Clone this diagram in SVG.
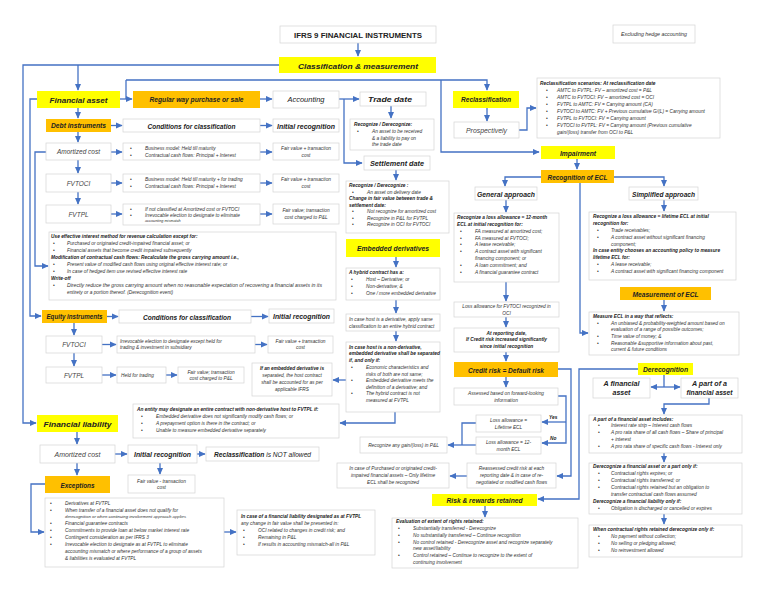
<svg xmlns="http://www.w3.org/2000/svg" width="768" height="594" viewBox="0 0 768 594">
<defs>
<marker id="ar" viewBox="0 0 10 10" refX="9" refY="5" markerWidth="7" markerHeight="7" orient="auto" markerUnits="userSpaceOnUse"><path d="M0,0.5 L10,5 L0,9.5 z" fill="#4472c4"/></marker>
<style>
.bx{fill:#fff;stroke:#d4d4d4;stroke-width:0.7}
.yl{fill:#ffff00}
.or{fill:#ffc000}
text{font-family:"Liberation Sans",Arial,sans-serif;fill:#222}
.hd{font-weight:bold;font-style:italic;font-size:7px}
.hi{font-style:italic;font-size:6.5px;fill:#444}
.s{font-style:italic;font-size:4.8px;fill:#333}
.sb{font-style:italic;font-weight:bold;font-size:4.8px;fill:#222}
.m{text-anchor:middle}
.c{fill:none;stroke:#4472c4;stroke-width:1.3}
.a{marker-end:url(#ar)}
</style>
</defs>
<rect width="768" height="594" fill="#fff"/>

<g id="connectors">
<path class="c a" d="M358,43 V56"/>
<path class="c a" d="M279,65 H23 V423 H36"/>
<path class="c a" d="M78,65 V90"/>
<path class="c a" d="M126,80 H487 V90"/>
<path class="c" d="M126,80 V99"/>
<path class="c a" d="M441,80 V152 H539"/>
<path class="c a" d="M120,99 H132"/>
<path class="c a" d="M260,99 H272"/>
<path class="c a" d="M339,99 H359"/>
<path class="c a" d="M344,99 V163 H362"/>
<path class="c a" d="M391,106 V118"/>
<path class="c a" d="M396,170 V180"/>
<path class="c a" d="M396,257 V267"/>
<path class="c a" d="M396,300 V313"/>
<path class="c a" d="M396,331 V341"/>
<path class="c a" d="M346,380 H333"/>
<path class="c a" d="M395,412 V423 H340"/>
<path class="c a" d="M37,99 H30 V316 H41"/>
<path class="c a" d="M46,152 H35 V266 H48"/>
<path class="c a" d="M78,108 V118"/>
<path class="c a" d="M78,132 V142"/>
<path class="c a" d="M78,160 V173"/>
<path class="c a" d="M78,192 V204"/>
<path class="c a" d="M111,125.5 H122"/>
<path class="c a" d="M260,125.5 H272"/>
<path class="c a" d="M111,152 H122"/>
<path class="c a" d="M260,152 H272"/>
<path class="c a" d="M111,183 H122"/>
<path class="c a" d="M260,183 H272"/>
<path class="c a" d="M111,214 H122"/>
<path class="c a" d="M260,214 H272"/>
<path class="c a" d="M74,323 V335"/>
<path class="c a" d="M74,353 V366"/>
<path class="c a" d="M107,316.5 H118"/>
<path class="c a" d="M251,316.5 H268"/>
<path class="c a" d="M102,344.5 H116"/>
<path class="c a" d="M255,344.5 H267"/>
<path class="c a" d="M102,375 H116"/>
<path class="c a" d="M166,375 H177"/>
<path class="c a" d="M77,432 V444"/>
<path class="c a" d="M115,454 H127"/>
<path class="c a" d="M197,454 H205"/>
<path class="c a" d="M160,463 V474"/>
<path class="c a" d="M77,463 V475"/>
<path class="c a" d="M45,484 H31 V532 H44"/>
<path class="c a" d="M224,532 H236"/>
<path class="c a" d="M487,108 V121"/>
<path class="c a" d="M519,130 H527 V108 H536"/>
<path class="c a" d="M577,159 V169"/>
<path class="c a" d="M541,177 H505 V186"/>
<path class="c a" d="M614,177 H664 V186"/>
<path class="c a" d="M580,183 V333 H588"/>
<path class="c a" d="M506,200 V212"/>
<path class="c a" d="M506,282 V301"/>
<path class="c a" d="M506,317 V327"/>
<path class="c a" d="M506,352 V361"/>
<path class="c a" d="M506,377 V387"/>
<path class="c a" d="M558,369 H571 V476 H557"/>
<path class="c a" d="M558,396 H566 V443 H542"/>
<path class="c a" d="M566,422 H542"/>
<path class="c" d="M476,423 H462 V445"/>
<path class="c a" d="M476,445 H448"/>
<path class="c a" d="M467,476 H450"/>
<path class="c a" d="M664,200 V211"/>
<path class="c a" d="M664,300 V311"/>
<path class="c a" d="M638,369 H579 V499 H538"/>
<path class="c" d="M664,375 V387"/>
<path class="c a" d="M664,387 H651"/>
<path class="c a" d="M664,387 H680"/>
<path class="c a" d="M709,398 V404 H664 V414"/>
<path class="c a" d="M664,453 V462"/>
<path class="c a" d="M664,514 V524"/>
<path class="c a" d="M485,506 V517"/>
<text class="sb" x="549" y="419">Yes</text>
<text class="sb" x="550" y="440">No</text>
</g>

<g id="title"><rect class="bx" x="280" y="26" width="156" height="17"/><text x="358" y="37.5" class="m" style="font-weight:bold;font-size:8px" textLength="128" lengthAdjust="spacingAndGlyphs">IFRS 9 FINANCIAL INSTRUMENTS</text></g>
<g id="hedge"><rect class="bx" x="613" y="25" width="82" height="18"/><text x="654" y="36" class="s m" textLength="66" lengthAdjust="spacingAndGlyphs">Excluding hedge accounting</text></g>
<g id="classification"><rect class="yl" x="279" y="57" width="157" height="16"/><text x="358" y="68.5" class="hd m" style="font-size:8px" textLength="120" lengthAdjust="spacingAndGlyphs">Classification &amp; measurement</text></g>

<g id="financial-asset"><rect class="yl" x="37" y="91" width="83" height="17"/><text x="78.5" y="102.5" class="hd m" style="font-size:8px" textLength="58" lengthAdjust="spacingAndGlyphs">Financial asset</text></g>
<g id="regular-way"><rect class="or" x="133" y="91" width="127" height="17"/><text x="196.5" y="102" class="hd m" textLength="94" lengthAdjust="spacingAndGlyphs">Regular way purchase or sale</text></g>
<g id="accounting"><rect class="bx" x="273" y="91" width="66" height="17"/><text x="306" y="102" class="hd m" style="font-weight:normal" textLength="37" lengthAdjust="spacingAndGlyphs">Accounting</text></g>
<g id="trade-date"><rect class="bx" x="360" y="92" width="66" height="14"/><text x="390" y="101.5" class="hd m" textLength="44" lengthAdjust="spacingAndGlyphs">Trade date</text></g>
<g id="trade-recognize"><rect class="bx" x="350" y="119" width="84" height="31"/>
<text x="354" y="126" class="sb">Recognize / Derecognize:</text>
<text x="357" y="133" class="s">•</text><text x="372" y="133" class="s">An asset to be received</text>
<text x="372" y="139.5" class="s">&amp; a liability to pay on</text>
<text x="372" y="146" class="s">the trade date</text></g>
<g id="settlement-date"><rect class="bx" x="364" y="156" width="66" height="14"/><text x="397" y="166" class="hd m" textLength="54" lengthAdjust="spacingAndGlyphs">Settlement date</text></g>
<g id="settlement-recognize"><rect class="bx" x="346" y="181" width="103" height="52"/>
<text x="349" y="187" class="sb">Recognize / Derecognize :</text>
<text x="352" y="193.5" class="s">•</text><text x="367" y="193.5" class="s">An asset on delivery date</text>
<text x="349" y="200" class="sb">Change in fair value between trade &amp;</text>
<text x="349" y="206.5" class="sb">settlement date:</text>
<text x="352" y="213" class="s">•</text><text x="367" y="213" class="s">Not recognize for amortized cost</text>
<text x="352" y="219.5" class="s">•</text><text x="367" y="219.5" class="s">Recognize in P&amp;L for FVTPL</text>
<text x="352" y="226" class="s">•</text><text x="367" y="226" class="s">Recognize in OCI for FVTOCI</text></g>

<g id="embedded"><rect class="yl" x="346" y="239" width="94" height="18"/><text x="393" y="250.5" class="hd m" textLength="72" lengthAdjust="spacingAndGlyphs">Embedded derivatives</text></g>
<g id="hybrid"><rect class="bx" x="346" y="268" width="94" height="32"/>
<text x="349" y="274" class="sb">A hybrid contract has a:</text>
<text x="351" y="281" class="s">•</text><text x="366" y="281" class="s">Host – Derivative; or</text>
<text x="351" y="288" class="s">•</text><text x="366" y="288" class="s">Non-derivative; &amp;</text>
<text x="351" y="295" class="s">•</text><text x="366" y="295" class="s">One / more embedded derivative</text></g>
<g id="host-derivative"><rect class="bx" x="346" y="314" width="94" height="17"/>
<text x="349" y="321" class="s">In case host is a derivative, apply same</text>
<text x="349" y="328" class="s">classification to an entire hybrid contract</text></g>
<g id="host-nonderivative"><rect class="bx" x="346" y="342" width="94" height="70"/>
<text x="349" y="348.5" class="sb">In case host is a non-derivative,</text>
<text x="349" y="355" class="sb">embedded derivative shall be separated</text>
<text x="349" y="361.5" class="sb">if, and only if:</text>
<text x="351" y="369" class="s">•</text><text x="366" y="369" class="s">Economic characteristics and</text>
<text x="366" y="375.5" class="s">risks of both are not same;</text>
<text x="351" y="382" class="s">•</text><text x="366" y="382" class="s">Embedded derivative meets the</text>
<text x="366" y="388.5" class="s">definition of a derivative; and</text>
<text x="351" y="395" class="s">•</text><text x="366" y="395" class="s">The hybrid contract is not</text>
<text x="366" y="401.5" class="s">measured at FVTPL</text></g>
<g id="host-separated"><rect class="bx" x="252" y="363" width="80" height="33"/>
<text x="292" y="369.5" class="sb m">If an embedded derivative is</text>
<text x="292" y="376.5" class="s m">separated,  the host contract</text>
<text x="292" y="383.5" class="s m">shall be accounted for as per</text>
<text x="292" y="390.5" class="s m">applicable IFRS</text></g>
<g id="designate-entire"><rect class="bx" x="133" y="404" width="206" height="34"/>
<text x="137" y="411" class="sb">An entity may designate an entire contract with non-derivative host to FVTPL if:</text>
<text x="141" y="418" class="s">•</text><text x="156" y="418" class="s">Embedded derivative does not significantly modify cash flows; or</text>
<text x="141" y="425" class="s">•</text><text x="156" y="425" class="s">A prepayment option is there in the contract; or</text>
<text x="141" y="432" class="s">•</text><text x="156" y="432" class="s">Unable to measure embedded derivative separately</text></g>

<g id="debt"><rect class="or" x="46" y="119" width="65" height="13"/><text x="78.5" y="128" class="hd m" style="font-size:6.5px" textLength="55" lengthAdjust="spacingAndGlyphs">Debt instruments</text></g>
<g id="debt-conditions"><rect class="bx" x="123" y="119" width="137" height="13"/><text x="191.5" y="128.5" class="hd m" textLength="88" lengthAdjust="spacingAndGlyphs">Conditions for classification</text></g>
<g id="debt-initial"><rect class="bx" x="273" y="119" width="66" height="13"/><text x="306" y="128.5" class="hd m" textLength="58" lengthAdjust="spacingAndGlyphs">Initial recognition</text></g>
<g id="debt-amortized"><rect class="bx" x="46" y="143" width="65" height="17"/><text x="78.5" y="154" class="hi m">Amortized cost</text></g>
<g id="debt-amortized-cond"><rect class="bx" x="123" y="143" width="137" height="17"/>
<text x="130" y="150" class="s">•</text><text x="145" y="150" class="s">Business model: Held till maturity</text>
<text x="130" y="157" class="s">•</text><text x="145" y="157" class="s">Contractual cash flows: Principal + Interest</text></g>
<g id="debt-amortized-init"><rect class="bx" x="273" y="143" width="66" height="17"/>
<text x="306" y="150" class="s m">Fair value + transaction</text><text x="306" y="157" class="s m">cost</text></g>
<g id="debt-fvtoci"><rect class="bx" x="46" y="174" width="65" height="18"/><text x="78.5" y="185.5" class="hi m">FVTOCI</text></g>
<g id="debt-fvtoci-cond"><rect class="bx" x="123" y="174" width="137" height="18"/>
<text x="130" y="181" class="s">•</text><text x="145" y="181" class="s">Business model: Held till maturity + for trading</text>
<text x="130" y="188" class="s">•</text><text x="145" y="188" class="s">Contractual cash flows: Principal + Interest</text></g>
<g id="debt-fvtoci-init"><rect class="bx" x="273" y="174" width="66" height="18"/>
<text x="306" y="181" class="s m">Fair value + transaction</text><text x="306" y="188" class="s m">cost</text></g>
<g id="debt-fvtpl"><rect class="bx" x="46" y="205" width="65" height="18"/><text x="78.5" y="216.5" class="hi m">FVTPL</text></g>
<g id="debt-fvtpl-cond"><rect class="bx" x="123" y="204" width="137" height="21"/>
<text x="130" y="210.5" class="s">•</text><text x="145" y="210.5" class="s">If not classified at Amortized cost or FVTOCI</text>
<text x="130" y="216.5" class="s">•</text><text x="145" y="216.5" class="s">Irrevocable election to designate to eliminate</text>
<text x="145" y="221.5" class="s" style="font-size:3.8px">accounting mismatch</text></g>
<g id="debt-fvtpl-init"><rect class="bx" x="273" y="204" width="66" height="20"/>
<text x="306" y="212" class="s m">Fair value; transaction</text><text x="306" y="219" class="s m">cost charged to P&amp;L</text></g>
<g id="effective-interest"><rect class="bx" x="49" y="232" width="287" height="68"/>
<text x="51" y="238" class="sb">Use effective interest method for revenue calculation except for:</text>
<text x="53" y="245" class="s">•</text><text x="67" y="245" class="s">Purchased or originated credit-impaired financial asset; or</text>
<text x="53" y="252" class="s">•</text><text x="67" y="252" class="s">Financial assets that  become credit impaired subsequently</text>
<text x="51" y="259" class="sb">Modification of contractual cash flows: Recalculate the gross carrying amount i.e.,</text>
<text x="53" y="266" class="s">•</text><text x="67" y="266" class="s">Present value of modified cash flows using original effective interest rate; or</text>
<text x="53" y="273" class="s">•</text><text x="67" y="273" class="s">In case of hedged item use revised effective interest rate</text>
<text x="51" y="280" class="sb">Write-off</text>
<text x="53" y="287" class="s">•</text><text x="67" y="287" class="s" textLength="255" lengthAdjust="spacingAndGlyphs">Directly reduce the gross carrying amount when no reasonable expectation of recovering a financial assets in its</text>
<text x="67" y="294" class="s">entirety or a portion thereof. (Derecognition event)</text></g>

<g id="equity"><rect class="or" x="42" y="310" width="65" height="13"/><text x="74.5" y="319" class="hd m" style="font-size:6.5px" textLength="56" lengthAdjust="spacingAndGlyphs">Equity instruments</text></g>
<g id="equity-conditions"><rect class="bx" x="119" y="310" width="132" height="13"/><text x="187" y="319.5" class="hd m" textLength="88" lengthAdjust="spacingAndGlyphs">Conditions for classification</text></g>
<g id="equity-initial"><rect class="bx" x="269" y="309" width="65" height="14"/><text x="301.5" y="319" class="hd m" textLength="57" lengthAdjust="spacingAndGlyphs">Initial recognition</text></g>
<g id="equity-fvtoci"><rect class="bx" x="46" y="336" width="56" height="17"/><text x="74" y="347" class="hi m">FVTOCI</text></g>
<g id="equity-fvtoci-cond"><rect class="bx" x="117" y="336" width="138" height="17"/>
<text x="120" y="342.5" class="s">Irrevocable election to designate except held for</text>
<text x="120" y="349" class="s">trading &amp; investment in subsidiary</text></g>
<g id="equity-fvtoci-init"><rect class="bx" x="268" y="336" width="65" height="17"/>
<text x="300.5" y="342.5" class="s m">Fair value + transaction</text><text x="300.5" y="349" class="s m">cost</text></g>
<g id="equity-fvtpl"><rect class="bx" x="46" y="367" width="56" height="16"/><text x="74" y="377.5" class="hi m">FVTPL</text></g>
<g id="equity-fvtpl-cond"><rect class="bx" x="117" y="367" width="49" height="16"/><text x="121" y="377" class="s">Held for trading</text></g>
<g id="equity-fvtpl-init"><rect class="bx" x="178" y="367" width="66" height="16"/>
<text x="211" y="373.5" class="s m">Fair value; transaction</text><text x="211" y="380" class="s m">cost charged to P&amp;L</text></g>

<g id="financial-liability"><rect class="yl" x="37" y="415" width="81" height="17"/><text x="77.5" y="426.5" class="hd m" style="font-size:8px" textLength="68" lengthAdjust="spacingAndGlyphs">Financial liability</text></g>
<g id="liab-amortized"><rect class="bx" x="40" y="445" width="75" height="18"/><text x="77.5" y="456.5" class="hi m" textLength="46" lengthAdjust="spacingAndGlyphs">Amortized cost</text></g>
<g id="liab-initial"><rect class="bx" x="128" y="445" width="69" height="18"/><text x="162.5" y="456.5" class="hd m" textLength="57" lengthAdjust="spacingAndGlyphs">Initial recognition</text></g>
<g id="liab-reclass"><rect class="bx" x="206" y="447" width="113" height="14"/><text x="262.5" y="456.5" class="hd m" textLength="97" lengthAdjust="spacingAndGlyphs">Reclassification<tspan style="font-weight:normal"> is NOT allowed</tspan></text></g>
<g id="liab-fv"><rect class="bx" x="128" y="475" width="67" height="18"/>
<text x="161.5" y="482.5" class="s m">Fair value - transaction</text><text x="161.5" y="489" class="s m">cost</text></g>
<g id="exceptions"><rect class="or" x="45" y="476" width="65" height="17"/><text x="77.5" y="487.5" class="hd m" textLength="34" lengthAdjust="spacingAndGlyphs">Exceptions</text></g>
<g id="exceptions-list"><rect class="bx" x="45" y="498" width="179" height="69"/>
<text x="50" y="505" class="s">•</text><text x="65" y="505" class="s">Derivatives at FVTPL</text>
<text x="50" y="511.5" class="s">•</text><text x="65" y="511.5" class="s">When transfer of a financial asset does not qualify for</text>
<text x="65" y="518" class="s" style="font-size:4.3px">derecognition or when continuing involvement approach applies</text>
<text x="50" y="524.5" class="s">•</text><text x="65" y="524.5" class="s">Financial guarantee contracts</text>
<text x="50" y="531.5" class="s">•</text><text x="65" y="531.5" class="s">Commitments to provide loan at below market interest rate</text>
<text x="50" y="538.5" class="s">•</text><text x="65" y="538.5" class="s">Contingent consideration as per IFRS 3</text>
<text x="50" y="545.5" class="s">•</text><text x="65" y="545.5" class="s">Irrevocable election to designate as at FVTPL to eliminate</text>
<text x="65" y="552.5" class="s">accounting mismatch or where performance of a group of assets</text>
<text x="65" y="559.5" class="s">&amp; liabilities is evaluated at FVTPL</text></g>
<g id="liab-fvtpl"><rect class="bx" x="237" y="510" width="138" height="45"/>
<text x="241" y="518" class="sb">In case of a financial liability designated as at FVTPL</text>
<text x="241" y="525" class="s">any change in fair value shall be presented in:</text>
<text x="243" y="532" class="s">•</text><text x="258" y="532" class="s">OCI related to changes in credit risk; and</text>
<text x="243" y="539" class="s">•</text><text x="258" y="539" class="s">Remaining in P&amp;L</text>
<text x="243" y="546" class="s">•</text><text x="258" y="546" class="s">If results in accounting mismatch-all in P&amp;L</text></g>

<g id="reclassification"><rect class="yl" x="453" y="91" width="66" height="17"/><text x="486" y="102" class="hd m" textLength="50" lengthAdjust="spacingAndGlyphs">Reclassification</text></g>
<g id="prospectively"><rect class="bx" x="454" y="122" width="65" height="16"/><text x="486.5" y="133" class="hi m" textLength="41" lengthAdjust="spacingAndGlyphs">Prospectively</text></g>
<g id="reclass-scenarios"><rect class="bx" x="537" y="78" width="183" height="60"/>
<text x="540" y="84.5" class="sb">Reclassification scenarios: At reclassification date</text>
<text x="546" y="91.5" class="s">•</text><text x="557" y="91.5" class="s">AMTC to FVTPL: FV – amortized cost = P&amp;L</text>
<text x="546" y="98.5" class="s">•</text><text x="557" y="98.5" class="s">AMTC to FVTOCI: FV – amortized cost =  OCI</text>
<text x="546" y="105.5" class="s">•</text><text x="557" y="105.5" class="s">FVTPL to AMTC: FV = Carrying amount (CA)</text>
<text x="546" y="112.5" class="s">•</text><text x="557" y="112.5" class="s">FVTOCI to AMTC: FV + Previous cumulative G/(L) = Carrying amount</text>
<text x="546" y="119.5" class="s">•</text><text x="557" y="119.5" class="s">FVTPL to FVTOCI: FV = Carrying amount</text>
<text x="546" y="126.5" class="s">•</text><text x="557" y="126.5" class="s">FVTOCI to FVTPL: FV = Carrying amount (Previous cumulative</text>
<text x="557" y="133.5" class="s">gain/(loss) transfer from OCI to P&amp;L</text></g>

<g id="impairment"><rect class="yl" x="541" y="146" width="74" height="13"/><text x="578" y="155.5" class="hd m" textLength="36" lengthAdjust="spacingAndGlyphs">Impairment</text></g>
<g id="recognition-ecl"><rect class="or" x="541" y="170" width="73" height="13"/><text x="577.5" y="179.5" class="hd m" textLength="60" lengthAdjust="spacingAndGlyphs">Recognition of ECL</text></g>
<g id="general-approach"><rect class="bx" x="475" y="187" width="62" height="13"/><text x="506" y="196.5" class="hd m" textLength="58" lengthAdjust="spacingAndGlyphs">General approach</text></g>
<g id="simplified-approach"><rect class="bx" x="629" y="187" width="69" height="13"/><text x="663.5" y="196.5" class="hd m" textLength="63" lengthAdjust="spacingAndGlyphs">Simplified approach</text></g>
<g id="general-box"><rect class="bx" x="454" y="213" width="105" height="69"/>
<text x="457" y="219" class="sb">Recognize a loss allowance = 12-month</text>
<text x="457" y="225.5" class="sb">ECL at initial recognition for:</text>
<text x="460" y="232.5" class="s">•</text><text x="475" y="232.5" class="s">FA measured at amortized cost;</text>
<text x="460" y="239.5" class="s">•</text><text x="475" y="239.5" class="s">FA measured at FVTOCI;</text>
<text x="460" y="246" class="s">•</text><text x="475" y="246" class="s">A lease receivable;</text>
<text x="460" y="253" class="s">•</text><text x="475" y="253" class="s">A contract asset with significant</text>
<text x="475" y="260" class="s">financing component; or</text>
<text x="460" y="267" class="s">•</text><text x="475" y="267" class="s">A loan commitment; and</text>
<text x="460" y="274" class="s">•</text><text x="475" y="274" class="s">A financial guarantee contract</text></g>
<g id="loss-fvtoci"><rect class="bx" x="454" y="302" width="105" height="15"/>
<text x="506.5" y="308" class="s m">Loss allowance for FVTOCI recognized in</text><text x="506.5" y="314.5" class="s m">OCI</text></g>
<g id="reporting-date"><rect class="bx" x="454" y="328" width="105" height="24"/>
<text x="506.5" y="334.5" class="sb m">At reporting date,</text>
<text x="506.5" y="341" class="sb m">If Credit risk increased significantly</text>
<text x="506.5" y="347.5" class="sb m">since initial recognition</text></g>
<g id="credit-risk"><rect class="or" x="454" y="362" width="104" height="15"/><text x="506" y="372.5" class="hd m" textLength="76" lengthAdjust="spacingAndGlyphs">Credit risk = Default risk</text></g>
<g id="assessed"><rect class="bx" x="454" y="388" width="104" height="17"/>
<text x="506" y="395" class="s m">Assessed based on forward-looking</text><text x="506" y="401.5" class="s m">information</text></g>
<g id="lifetime-ecl"><rect class="bx" x="476" y="415" width="65" height="17"/>
<text x="508.5" y="421.5" class="s m">Loss allowance =</text><text x="508.5" y="428.5" class="s m">Lifetime ECL</text></g>
<g id="month-ecl"><rect class="bx" x="476" y="437" width="65" height="17"/>
<text x="508.5" y="443.5" class="s m">Loss allowance = 12-</text><text x="508.5" y="450.5" class="s m">month ECL</text></g>
<g id="gain-loss"><rect class="bx" x="360" y="437" width="87" height="16"/><text x="403.5" y="447" class="s m">Recognize any gain/(loss) in P&amp;L</text></g>
<g id="reassessed"><rect class="bx" x="467" y="463" width="89" height="25"/>
<text x="511.5" y="469.5" class="s m">Reassessed credit risk at each</text>
<text x="511.5" y="476.5" class="s m">reporting date &amp; in case of re-</text>
<text x="511.5" y="483.5" class="s m">negotiated or modified cash flows</text></g>
<g id="purchased"><rect class="bx" x="337" y="463" width="112" height="25"/>
<text x="393" y="469.5" class="s m">In case of Purchased or originated credit-</text>
<text x="393" y="476.5" class="s m">impaired financial assets – Only lifetime</text>
<text x="393" y="483.5" class="s m">ECL shall be recognized</text></g>
<g id="risk-rewards"><rect class="yl" x="432" y="494" width="105" height="12"/><text x="484.5" y="502.5" class="hd m" textLength="76" lengthAdjust="spacingAndGlyphs">Risk &amp; rewards retained</text></g>
<g id="risk-box"><rect class="bx" x="392" y="518" width="186" height="50"/>
<text x="396" y="523" class="sb">Evaluation of extent of rights retained:</text>
<text x="398" y="529.5" class="s">•</text><text x="413" y="529.5" class="s">Substantially transferred - Derecognize</text>
<text x="398" y="536.5" class="s">•</text><text x="413" y="536.5" class="s">No substantially transferred – Continue recognition</text>
<text x="398" y="543.5" class="s">•</text><text x="413" y="543.5" class="s">No control retained - Derecognize asset and recognize separately</text>
<text x="413" y="550" class="s">new asset/liability</text>
<text x="398" y="557" class="s">•</text><text x="413" y="557" class="s">Control retained – Continue to recognize to the extent of</text>
<text x="413" y="564" class="s">continuing involvement</text></g>

<g id="simplified-box"><rect class="bx" x="589" y="212" width="147" height="68"/>
<text x="593" y="218" class="sb">Recognize a loss allowance = lifetime ECL at initial</text>
<text x="593" y="224.5" class="sb">recognition for:</text>
<text x="597" y="232" class="s">•</text><text x="611" y="232" class="s">Trade receivables;</text>
<text x="597" y="239" class="s">•</text><text x="611" y="239" class="s">A contract asset without significant financing</text>
<text x="611" y="245.5" class="s">component;</text>
<text x="593" y="252" class="sb">In case entity chooses an accounting policy to measure</text>
<text x="593" y="258.5" class="sb">lifetime ECL for:</text>
<text x="597" y="266" class="s">•</text><text x="611" y="266" class="s">A lease receivable;</text>
<text x="597" y="273" class="s">•</text><text x="611" y="273" class="s">A contract asset with significant financing component</text></g>
<g id="measurement-ecl"><rect class="or" x="620" y="287" width="91" height="13"/><text x="665.5" y="296.5" class="hd m" textLength="66" lengthAdjust="spacingAndGlyphs">Measurement of ECL</text></g>
<g id="measure-box"><rect class="bx" x="589" y="312" width="150" height="43"/>
<text x="593" y="318" class="sb">Measure ECL in a way that reflects:</text>
<text x="597" y="324.5" class="s">•</text><text x="611" y="324.5" class="s">An unbiased &amp; probability-weighted amount based on</text>
<text x="611" y="331" class="s">evaluation of a range of possible outcomes;</text>
<text x="597" y="337.5" class="s">•</text><text x="611" y="337.5" class="s">Time value of money; &amp;</text>
<text x="597" y="344.5" class="s">•</text><text x="611" y="344.5" class="s">Reasonable &amp;supportive information about past,</text>
<text x="611" y="351" class="s">current &amp; future conditions</text></g>

<g id="derecognition"><rect class="yl" x="638" y="363" width="55" height="12"/><text x="665.5" y="371.5" class="hd m" textLength="45" lengthAdjust="spacingAndGlyphs">Derecognition</text></g>
<g id="a-financial-asset"><rect class="bx" x="593" y="378" width="57" height="20"/>
<text x="621.5" y="386" class="hd m" textLength="36" lengthAdjust="spacingAndGlyphs">A financial</text><text x="621.5" y="394.5" class="hd m">asset</text></g>
<g id="a-part"><rect class="bx" x="681" y="378" width="57" height="20"/>
<text x="709.5" y="386" class="hd m" textLength="35" lengthAdjust="spacingAndGlyphs">A part of a</text><text x="709.5" y="394.5" class="hd m" textLength="46" lengthAdjust="spacingAndGlyphs">financial asset</text></g>
<g id="part-includes"><rect class="bx" x="589" y="415" width="153" height="38"/>
<text x="593" y="420.5" class="sb">A part of a financial asset includes:</text>
<text x="598" y="427" class="s">•</text><text x="611" y="427" class="s">Interest rate strip – Interest cash flows</text>
<text x="598" y="434" class="s">•</text><text x="611" y="434" class="s">A pro rata share of all cash flows – Share of principal</text>
<text x="611" y="441" class="s">+ interest</text>
<text x="598" y="448" class="s">•</text><text x="611" y="448" class="s">A pro rata share of specific cash flows -  Interest only</text></g>
<g id="derecognize-if"><rect class="bx" x="589" y="463" width="153" height="51"/>
<text x="593" y="468" class="sb">Derecognize a  financial asset  or a part only if:</text>
<text x="598" y="475" class="s">•</text><text x="611" y="475" class="s">Contractual rights expires; or</text>
<text x="598" y="482" class="s">•</text><text x="611" y="482" class="s">Contractual rights transferred; or</text>
<text x="598" y="489" class="s">•</text><text x="611" y="489" class="s">Contractual rights retained but an obligation to</text>
<text x="611" y="496" class="s">transfer contractual cash flows assumed</text>
<text x="593" y="503" class="sb">Derecognize a financial liability only if:</text>
<text x="598" y="510" class="s">•</text><text x="611" y="510" class="s">Obligation is discharged or cancelled or expires</text></g>
<g id="rights-retained"><rect class="bx" x="589" y="525" width="153" height="32"/>
<text x="593" y="530.5" class="sb">When contractual rights retained derecognize only if:</text>
<text x="598" y="537.5" class="s">•</text><text x="611" y="537.5" class="s">No payment without collection;</text>
<text x="598" y="544.5" class="s">•</text><text x="611" y="544.5" class="s">No selling or pledging allowed;</text>
<text x="598" y="551.5" class="s">•</text><text x="611" y="551.5" class="s">No reinvestment allowed</text></g>
</svg>
